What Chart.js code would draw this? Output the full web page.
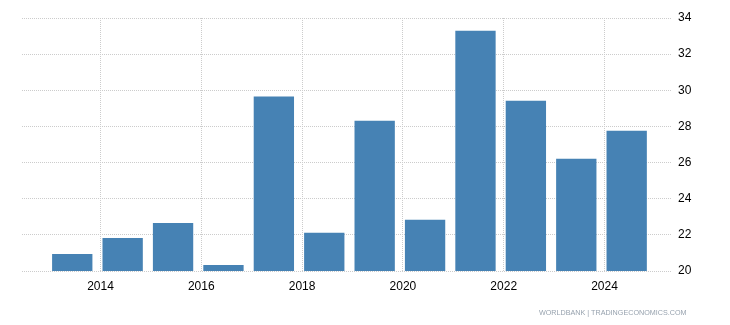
<!DOCTYPE html>
<html lang="en">
<head>
    <meta charset="utf-8">
    <title>Chart</title>
    <script src="https://cdn.jsdelivr.net/npm/chart.js@4/dist/chart.umd.min.js"></script>
    <style>
        html, body { margin: 0; padding: 0; background: #fff; }
        #wrap { position: relative; width: 730px; height: 325px; }
        #credit {
            position: absolute; left: 539px; top: 308px;
            font: 7.2px "Liberation Sans", Arial, sans-serif;
            color: #97a2ae; white-space: nowrap;
        }
    </style>
</head>
<body>
<div id="wrap">
    <canvas id="bars" width="730" height="325"></canvas>
    <div id="credit">WORLDBANK | TRADINGECONOMICS.COM</div>
</div>

<script type="text/javascript">

    const years = [2013, 2014, 2015, 2016, 2017, 2018, 2019, 2020, 2021, 2022, 2023, 2024];
    const values = [20.94, 21.83, 22.66, 20.33, 29.65, 22.11, 28.31, 22.83, 33.30, 29.42, 26.21, 27.76];
    const yTicks = [20, 22, 24, 26, 28, 30, 32, 34];

    // bars sit at mid-year, tick labels at 1 January
    const points = years.map((yr, i) => ({x: yr + 0.44, y: values[i]}));

    const gridStyle = {
        color: "#cccccc",
        lineWidth: 1,
        drawTicks: false
    };

    new Chart("bars", {
        type: 'bar',
        data: {
            datasets: [
                {
                    data: points,
                    backgroundColor: "#4682b4",
                    borderWidth: 0,
                    barPercentage: 1.0,
                    categoryPercentage: 0.8
                }
            ]
        },
        options: {
            responsive: false,
            animation: false,
            layout: {padding: {left: 22, top: 18, right: 0, bottom: 0}},
            plugins: {
                legend: {display: false},
                tooltip: {enabled: false}
            },
            scales: {
                x: {
                    type: 'linear',
                    offset: false,
                    min: 2012.443,
                    max: 2025.339,
                    border: {display: false, dash: [1, 1]},
                    grid: Object.assign({offset: false}, gridStyle),
                    ticks: {
                        stepSize: 2,
                        includeBounds: false,
                        padding: 8,
                        color: "#000",
                        font: {family: "'Liberation Sans', Arial, sans-serif", size: 12},
                        callback: v => String(v),
                        maxRotation: 0
                    },
                    afterFit: s => { s.height = 54; }
                },
                y: {
                    position: 'right',
                    min: yTicks[0],
                    max: yTicks[yTicks.length - 1],
                    border: {display: false, dash: [1, 1]},
                    grid: gridStyle,
                    afterBuildTicks: s => { s.ticks = yTicks.map(v => ({value: v})); },
                    ticks: {
                        padding: 6,
                        color: "#000",
                        font: {family: "'Liberation Sans', Arial, sans-serif", size: 12}
                    },
                    afterFit: s => { s.width = 58; }
                }
            }
        }
    });

</script>
</body>
</html>
